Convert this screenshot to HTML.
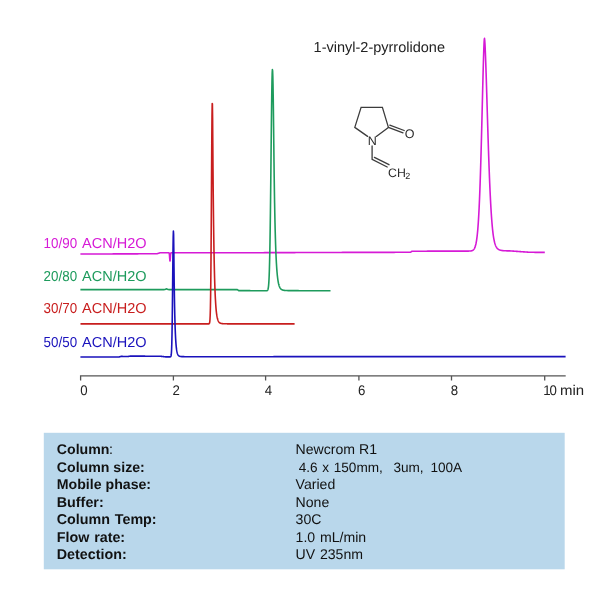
<!DOCTYPE html>
<html><head><meta charset="utf-8"><title>1-vinyl-2-pyrrolidone</title>
<style>
html,body{margin:0;padding:0;background:#fff;}
body{width:600px;height:597px;position:relative;overflow:hidden;font-family:"Liberation Sans",sans-serif;}
svg{will-change:transform;}
svg text{text-rendering:geometricPrecision;}
</style></head><body>
<svg width="600" height="597" viewBox="0 0 600 597" style="position:absolute;left:0;top:0">
<rect x="43.8" y="432.8" width="520.9" height="136.5" fill="#b9d7eb"/>
<g stroke="#555" stroke-width="1.3" fill="none">
<path d="M80.60,380.4 L80.60,375.9 L565.7,375.9"/>
<path d="M173.40,375.9 L173.40,380.5"/>
<path d="M265.60,375.9 L265.60,380.5"/>
<path d="M358.90,375.9 L358.90,380.5"/>
<path d="M451.50,375.9 L451.50,380.5"/>
<path d="M544.70,375.9 L544.70,380.5"/>
</g>
<path d="M80.40,254.05 L80.60,254.05 L80.80,254.05 L81.00,254.05 L81.20,254.05 L81.40,254.04 L81.60,254.04 L81.80,254.04 L82.00,254.04 L83.50,254.04 L85.00,254.03 L86.50,254.02 L88.00,254.02 L89.50,254.01 L91.00,254.01 L92.50,254.00 L94.00,254.00 L95.50,253.99 L97.00,253.98 L98.50,253.98 L100.00,253.97 L101.50,253.97 L103.00,253.96 L104.50,253.95 L106.00,253.95 L107.50,253.94 L109.00,253.94 L110.50,253.93 L112.00,253.93 L113.50,253.92 L115.00,253.91 L116.50,253.91 L118.00,253.90 L119.50,253.90 L121.00,253.89 L122.50,253.88 L124.00,253.88 L125.50,253.87 L127.00,253.87 L128.50,253.86 L130.00,253.86 L131.50,253.85 L133.00,253.84 L134.50,253.84 L136.00,253.83 L137.50,253.83 L139.00,253.82 L140.50,253.81 L142.00,253.81 L143.50,253.80 L145.00,253.80 L146.50,253.79 L148.00,253.79 L149.50,253.78 L151.00,253.77 L152.50,253.77 L154.00,253.76 L155.50,253.76 L155.70,253.76 L155.90,253.75 L156.10,253.75 L156.30,253.75 L156.50,253.75 L156.70,253.75 L156.90,253.75 L157.10,253.72 L157.30,253.66 L157.50,253.59 L157.70,253.53 L157.90,253.47 L158.10,253.40 L158.30,253.34 L158.50,253.28 L158.70,253.21 L158.90,253.15 L159.10,253.09 L159.30,253.02 L159.50,252.96 L159.70,252.90 L159.90,252.83 L160.10,252.80 L160.30,252.80 L160.50,252.80 L160.70,252.80 L160.90,252.80 L161.10,252.80 L161.30,252.80 L161.50,252.80 L161.70,252.80 L161.90,252.80 L162.10,252.80 L163.60,252.80 L165.10,252.80 L165.30,252.80 L165.50,252.80 L165.70,252.80 L165.90,252.80 L166.10,252.80 L166.30,252.80 L166.50,252.80 L166.70,252.80 L166.90,252.80 L167.10,252.80 L167.30,252.80 L167.50,252.80 L167.70,252.80 L167.90,252.80 L168.10,252.79 L168.30,252.79 L168.50,252.79 L168.70,252.80 L168.90,252.82 L169.10,252.96 L169.30,253.58 L169.50,255.33 L169.70,258.34 L169.90,260.98 L170.10,260.98 L170.30,258.34 L170.50,255.33 L170.70,253.58 L170.90,252.96 L171.10,252.82 L171.30,252.80 L171.50,252.79 L171.70,252.79 L171.90,252.79 L172.10,252.79 L172.30,252.79 L172.50,252.79 L172.70,252.79 L172.90,252.79 L173.10,252.79 L173.30,252.79 L173.50,252.79 L173.70,252.79 L173.90,252.79 L174.10,252.79 L174.30,252.79 L174.50,252.79 L174.70,252.79 L174.90,252.79 L175.10,252.79 L175.30,252.79 L175.50,252.79 L175.70,252.79 L175.90,252.79 L176.10,252.79 L177.60,252.79 L179.10,252.79 L180.60,252.79 L182.10,252.79 L183.60,252.79 L185.10,252.78 L186.60,252.78 L188.10,252.78 L189.60,252.78 L191.10,252.78 L192.60,252.78 L194.10,252.78 L195.60,252.78 L197.10,252.78 L198.60,252.78 L200.10,252.77 L201.60,252.77 L203.10,252.77 L204.60,252.77 L206.10,252.77 L207.60,252.77 L209.10,252.77 L210.60,252.77 L212.10,252.77 L213.60,252.77 L215.10,252.77 L216.60,252.76 L218.10,252.76 L219.60,252.76 L221.10,252.76 L222.60,252.76 L224.10,252.76 L225.60,252.76 L227.10,252.76 L228.60,252.76 L230.10,252.76 L231.60,252.76 L233.10,252.75 L234.60,252.75 L236.10,252.75 L237.60,252.75 L239.10,252.75 L239.30,252.75 L239.50,252.75 L239.70,252.75 L239.90,252.75 L240.10,252.75 L240.30,252.75 L240.50,252.75 L240.70,252.75 L240.90,252.75 L241.10,252.75 L241.30,252.75 L241.50,252.75 L241.70,252.74 L241.90,252.74 L242.10,252.74 L243.60,252.74 L245.10,252.73 L246.60,252.73 L248.10,252.72 L249.60,252.72 L251.10,252.71 L252.60,252.71 L254.10,252.71 L255.60,252.70 L257.10,252.70 L258.60,252.69 L260.10,252.69 L261.60,252.68 L263.10,252.68 L264.60,252.67 L266.10,252.67 L267.60,252.66 L269.10,252.66 L270.60,252.65 L272.10,252.65 L273.60,252.64 L275.10,252.64 L276.60,252.63 L278.10,252.63 L279.60,252.62 L281.10,252.62 L282.60,252.61 L284.10,252.61 L285.60,252.60 L287.10,252.60 L288.60,252.60 L290.10,252.59 L291.60,252.59 L293.10,252.58 L294.60,252.58 L296.10,252.57 L297.60,252.57 L299.10,252.56 L300.60,252.56 L302.10,252.55 L303.60,252.55 L305.10,252.54 L306.60,252.54 L308.10,252.53 L309.60,252.53 L311.10,252.52 L312.60,252.52 L314.10,252.51 L315.60,252.51 L317.10,252.50 L318.60,252.50 L320.10,252.50 L321.60,252.49 L323.10,252.49 L324.60,252.48 L326.10,252.48 L327.60,252.47 L329.10,252.47 L330.60,252.46 L332.10,252.46 L333.60,252.45 L335.10,252.45 L336.60,252.44 L338.10,252.44 L339.60,252.43 L341.10,252.43 L342.60,252.42 L344.10,252.42 L345.60,252.41 L347.10,252.41 L348.60,252.40 L348.80,252.40 L349.00,252.40 L349.20,252.40 L349.40,252.40 L349.60,252.40 L349.80,252.40 L350.00,252.40 L350.20,252.40 L350.40,252.40 L350.60,252.40 L350.80,252.40 L351.00,252.40 L351.20,252.40 L351.40,252.40 L351.60,252.40 L351.80,252.40 L352.00,252.40 L352.20,252.40 L353.70,252.39 L355.20,252.39 L356.70,252.39 L358.20,252.39 L359.70,252.38 L361.20,252.38 L362.70,252.38 L364.20,252.38 L365.70,252.37 L367.20,252.37 L368.70,252.37 L370.20,252.37 L371.70,252.36 L373.20,252.36 L374.70,252.36 L376.20,252.36 L377.70,252.35 L379.20,252.35 L380.70,252.35 L382.20,252.35 L383.70,252.34 L385.20,252.34 L386.70,252.34 L388.20,252.34 L389.70,252.33 L391.20,252.33 L392.70,252.33 L394.20,252.33 L395.70,252.32 L397.20,252.32 L398.70,252.32 L400.20,252.32 L401.70,252.31 L403.20,252.31 L404.70,252.31 L406.20,252.31 L407.70,252.30 L409.20,252.30 L409.40,252.30 L409.60,252.30 L409.80,252.30 L410.00,252.30 L410.20,252.30 L410.40,252.30 L410.60,252.23 L410.80,252.08 L411.00,251.93 L411.20,251.79 L411.40,251.64 L411.60,251.49 L411.80,251.35 L412.00,251.20 L412.20,251.20 L412.40,251.20 L412.60,251.20 L412.80,251.20 L413.00,251.20 L413.20,251.20 L413.40,251.20 L413.60,251.20 L413.80,251.20 L414.00,251.20 L414.20,251.20 L415.70,251.19 L417.20,251.19 L418.70,251.19 L420.20,251.19 L421.70,251.18 L423.20,251.18 L424.70,251.18 L426.20,251.18 L427.70,251.17 L429.20,251.17 L430.70,251.17 L432.20,251.17 L433.70,251.16 L435.20,251.16 L436.70,251.16 L438.20,251.15 L439.70,251.15 L439.90,251.15 L440.10,251.15 L440.30,251.15 L440.50,251.15 L440.70,251.15 L440.90,251.15 L441.10,251.15 L441.30,251.15 L441.50,251.15 L441.70,251.15 L441.90,251.15 L442.10,251.15 L442.30,251.15 L442.50,251.15 L442.70,251.15 L442.90,251.15 L443.10,251.15 L443.30,251.15 L443.50,251.15 L443.70,251.15 L443.90,251.14 L444.10,251.14 L444.30,251.14 L444.50,251.14 L444.70,251.14 L444.90,251.14 L445.10,251.14 L445.30,251.14 L445.50,251.14 L445.70,251.14 L445.90,251.14 L446.10,251.14 L446.30,251.14 L446.50,251.14 L446.70,251.14 L446.90,251.14 L447.10,251.14 L447.30,251.14 L447.50,251.14 L447.70,251.14 L447.90,251.14 L448.10,251.14 L448.30,251.14 L448.50,251.14 L448.70,251.14 L448.90,251.14 L449.10,251.14 L449.30,251.14 L449.50,251.14 L449.70,251.13 L449.90,251.13 L450.10,251.13 L450.30,251.13 L450.50,251.13 L450.70,251.13 L450.90,251.13 L451.10,251.13 L451.30,251.13 L451.50,251.13 L451.70,251.13 L451.90,251.13 L452.10,251.13 L452.30,251.13 L452.50,251.13 L452.70,251.13 L452.90,251.13 L453.10,251.13 L453.30,251.13 L453.50,251.13 L453.70,251.13 L453.90,251.13 L454.10,251.13 L454.30,251.13 L454.50,251.13 L454.70,251.13 L454.90,251.13 L455.10,251.13 L455.30,251.13 L455.50,251.12 L455.70,251.12 L455.90,251.12 L456.10,251.12 L456.30,251.12 L456.50,251.12 L456.70,251.12 L456.90,251.12 L457.10,251.12 L457.30,251.12 L457.50,251.12 L457.70,251.12 L457.90,251.12 L458.10,251.12 L458.30,251.12 L458.50,251.12 L458.70,251.12 L458.90,251.12 L459.10,251.12 L459.30,251.12 L459.50,251.12 L459.70,251.12 L459.90,251.12 L460.10,251.12 L460.30,251.12 L460.50,251.12 L460.70,251.12 L460.90,251.12 L461.10,251.12 L461.30,251.11 L461.50,251.11 L461.70,251.11 L461.90,251.11 L462.10,251.11 L462.30,251.11 L462.50,251.11 L462.70,251.11 L462.90,251.11 L463.10,251.11 L463.30,251.11 L463.50,251.11 L463.70,251.11 L463.90,251.11 L464.10,251.11 L464.30,251.11 L464.50,251.11 L464.70,251.11 L464.90,251.11 L465.10,251.11 L465.30,251.11 L465.50,251.11 L465.70,251.11 L465.90,251.11 L466.10,251.10 L466.30,251.10 L466.50,251.10 L466.70,251.10 L466.90,251.10 L467.10,251.10 L467.30,251.10 L467.50,251.10 L467.70,251.09 L467.90,251.09 L468.10,251.09 L468.30,251.09 L468.50,251.08 L468.70,251.08 L468.90,251.07 L469.10,251.06 L469.30,251.06 L469.50,251.05 L469.70,251.04 L469.90,251.03 L470.10,251.01 L470.30,250.99 L470.50,250.97 L470.70,250.95 L470.90,250.92 L471.10,250.89 L471.30,250.86 L471.50,250.81 L471.70,250.76 L471.90,250.70 L472.10,250.63 L472.30,250.55 L472.50,250.46 L472.70,250.35 L472.90,250.23 L473.10,250.09 L473.30,249.92 L473.50,249.73 L473.70,249.52 L473.90,249.27 L474.10,248.99 L474.30,248.67 L474.50,248.30 L474.70,247.89 L474.90,247.42 L475.10,246.88 L475.30,246.28 L475.50,245.60 L475.70,244.84 L475.90,243.99 L476.10,243.03 L476.30,241.96 L476.50,240.77 L476.70,239.44 L476.90,237.96 L477.10,236.33 L477.30,234.53 L477.50,232.54 L477.70,230.35 L477.90,227.96 L478.10,225.33 L478.30,222.47 L478.50,219.35 L478.70,215.96 L478.90,212.30 L479.10,208.34 L479.30,204.08 L479.50,199.52 L479.70,194.63 L479.90,189.42 L480.10,183.88 L480.30,178.02 L480.50,171.83 L480.70,165.33 L480.90,158.53 L481.10,151.44 L481.30,144.08 L481.50,136.49 L481.70,128.70 L481.90,120.74 L482.10,112.67 L482.30,104.53 L482.50,96.40 L482.70,88.34 L482.90,80.44 L483.10,72.79 L483.30,65.49 L483.50,58.66 L483.70,52.44 L483.90,46.99 L484.10,42.51 L484.30,39.32 L484.50,38.34 L484.70,40.05 L484.90,42.91 L485.10,46.60 L485.30,50.97 L485.50,55.89 L485.70,61.26 L485.90,67.00 L486.10,73.05 L486.30,79.33 L486.50,85.78 L486.70,92.37 L486.90,99.02 L487.10,105.72 L487.30,112.41 L487.50,119.05 L487.70,125.63 L487.90,132.11 L488.10,138.47 L488.30,144.68 L488.50,150.73 L488.70,156.60 L488.90,162.28 L489.10,167.76 L489.30,173.04 L489.50,178.10 L489.70,182.94 L489.90,187.56 L490.10,191.96 L490.30,196.13 L490.50,200.09 L490.70,203.83 L490.90,207.36 L491.10,210.69 L491.30,213.81 L491.50,216.74 L491.70,219.49 L491.90,222.05 L492.10,224.44 L492.30,226.67 L492.50,228.74 L492.70,230.66 L492.90,232.42 L493.10,234.03 L493.30,235.50 L493.50,236.84 L493.70,238.07 L493.90,239.18 L494.10,240.20 L494.30,241.13 L494.50,241.98 L494.70,242.76 L494.90,243.46 L495.10,244.11 L495.30,244.70 L495.50,245.23 L495.70,245.72 L495.90,246.17 L496.10,246.58 L496.30,246.95 L496.50,247.29 L496.70,247.59 L496.90,247.88 L497.10,248.13 L497.30,248.37 L497.50,248.58 L497.70,248.77 L497.90,248.95 L498.10,249.11 L498.30,249.25 L498.50,249.39 L498.70,249.51 L498.90,249.62 L499.10,249.72 L499.30,249.81 L499.50,249.89 L499.70,249.96 L499.90,250.03 L500.10,250.10 L500.30,250.16 L500.50,250.22 L500.70,250.27 L500.90,250.32 L501.10,250.36 L501.30,250.40 L501.50,250.44 L501.70,250.48 L501.90,250.51 L502.10,250.54 L502.30,250.56 L502.50,250.59 L502.70,250.61 L502.90,250.63 L503.10,250.65 L503.30,250.67 L503.50,250.68 L503.70,250.70 L503.90,250.71 L504.10,250.73 L504.30,250.74 L504.50,250.75 L504.70,250.76 L504.90,250.77 L505.10,250.78 L505.30,250.79 L505.50,250.79 L505.70,250.80 L505.90,250.81 L506.10,250.81 L506.30,250.82 L506.50,250.83 L506.70,250.83 L506.90,250.84 L507.10,250.84 L507.30,250.85 L507.50,250.85 L507.70,250.85 L507.90,250.86 L508.10,250.86 L508.30,250.87 L508.50,250.87 L508.70,250.87 L508.90,250.88 L509.10,250.88 L509.30,250.88 L509.50,250.89 L509.70,250.89 L509.90,250.89 L510.10,250.90 L510.30,250.91 L510.50,250.93 L510.70,250.94 L510.90,250.96 L511.10,250.97 L511.30,250.99 L511.50,251.00 L511.70,251.02 L511.90,251.03 L512.10,251.04 L512.30,251.06 L512.50,251.07 L512.70,251.09 L512.90,251.10 L513.10,251.12 L513.30,251.13 L513.50,251.14 L513.70,251.16 L513.90,251.17 L514.10,251.19 L514.30,251.20 L514.50,251.21 L514.70,251.23 L514.90,251.24 L515.10,251.26 L515.30,251.27 L515.50,251.28 L515.70,251.30 L515.90,251.31 L516.10,251.33 L516.30,251.34 L516.50,251.35 L516.70,251.37 L516.90,251.38 L517.10,251.40 L517.30,251.41 L517.50,251.42 L517.70,251.44 L517.90,251.45 L518.10,251.47 L518.30,251.48 L518.50,251.49 L518.70,251.51 L518.90,251.52 L519.10,251.54 L519.30,251.55 L519.50,251.56 L519.70,251.58 L519.90,251.59 L520.10,251.61 L520.30,251.62 L520.50,251.63 L520.70,251.65 L520.90,251.66 L521.10,251.68 L521.30,251.69 L521.50,251.70 L521.70,251.72 L521.90,251.73 L522.10,251.75 L522.30,251.76 L522.50,251.77 L522.70,251.79 L522.90,251.80 L523.10,251.82 L523.30,251.83 L523.50,251.84 L523.70,251.86 L523.90,251.87 L524.10,251.89 L524.30,251.90 L524.50,251.91 L524.70,251.93 L524.90,251.94 L525.10,251.96 L525.30,251.97 L525.50,251.98 L525.70,252.00 L525.90,252.01 L526.10,252.03 L526.30,252.04 L526.50,252.05 L526.70,252.07 L526.90,252.08 L527.10,252.10 L527.30,252.11 L527.50,252.12 L527.70,252.14 L527.90,252.15 L528.10,252.17 L528.30,252.18 L528.50,252.19 L528.70,252.21 L528.90,252.22 L529.10,252.24 L529.30,252.25 L529.50,252.26 L529.70,252.28 L529.90,252.29 L530.10,252.30 L530.30,252.30 L530.50,252.30 L530.70,252.30 L530.90,252.31 L531.10,252.31 L531.30,252.31 L531.50,252.31 L531.70,252.31 L531.90,252.31 L532.10,252.31 L533.60,252.32 L535.10,252.33 L536.60,252.34 L538.10,252.35 L539.60,252.36 L541.10,252.37 L542.60,252.38 L544.10,252.39 L544.30,252.40 L544.50,252.40 L544.70,252.40 L544.80,252.40" fill="none" stroke="#d61ad6" stroke-width="1.6" stroke-linejoin="round" stroke-linecap="butt"/>
<path d="M80.40,289.60 L80.60,289.60 L80.80,289.60 L81.00,289.60 L81.20,289.60 L81.40,289.60 L81.60,289.60 L81.80,289.60 L82.00,289.60 L83.50,289.60 L85.00,289.60 L86.50,289.60 L88.00,289.60 L89.50,289.60 L91.00,289.60 L92.50,289.60 L94.00,289.60 L95.50,289.60 L97.00,289.60 L98.50,289.60 L100.00,289.60 L101.50,289.60 L103.00,289.60 L104.50,289.60 L106.00,289.60 L107.50,289.60 L109.00,289.60 L110.50,289.60 L112.00,289.60 L113.50,289.60 L115.00,289.60 L116.50,289.60 L118.00,289.60 L119.50,289.60 L121.00,289.60 L122.50,289.60 L124.00,289.60 L125.50,289.60 L127.00,289.60 L128.50,289.60 L130.00,289.60 L131.50,289.60 L133.00,289.60 L134.50,289.60 L136.00,289.60 L137.50,289.60 L139.00,289.60 L140.50,289.60 L142.00,289.60 L143.50,289.60 L145.00,289.60 L146.50,289.60 L148.00,289.60 L149.50,289.60 L151.00,289.60 L152.50,289.60 L154.00,289.60 L155.50,289.60 L157.00,289.60 L158.50,289.60 L160.00,289.60 L161.50,289.60 L161.70,289.60 L161.90,289.60 L162.10,289.60 L162.30,289.60 L162.50,289.60 L162.70,289.60 L162.90,289.60 L163.10,289.60 L163.30,289.60 L163.50,289.60 L163.70,289.60 L163.90,289.60 L164.10,289.59 L164.30,289.58 L164.50,289.57 L164.70,289.54 L164.90,289.51 L165.10,289.45 L165.30,289.37 L165.50,289.28 L165.70,289.18 L165.90,289.07 L166.10,288.98 L166.30,288.92 L166.50,288.90 L166.70,288.92 L166.90,288.98 L167.10,289.07 L167.30,289.18 L167.50,289.28 L167.70,289.37 L167.90,289.45 L168.10,289.51 L168.30,289.54 L168.50,289.57 L168.70,289.58 L168.90,289.59 L169.10,289.60 L169.30,289.60 L169.50,289.60 L169.70,289.60 L169.90,289.60 L170.10,289.60 L170.30,289.60 L170.50,289.60 L170.70,289.60 L170.90,289.60 L171.10,289.60 L171.30,289.60 L171.50,289.60 L171.70,289.60 L171.90,289.60 L172.10,289.60 L172.30,289.60 L172.50,289.60 L172.70,289.60 L174.20,289.60 L175.70,289.60 L177.20,289.60 L178.70,289.60 L180.20,289.60 L181.70,289.60 L183.20,289.60 L184.70,289.60 L186.20,289.60 L187.70,289.60 L189.20,289.60 L190.70,289.60 L192.20,289.60 L193.70,289.60 L195.20,289.60 L196.70,289.60 L198.20,289.60 L199.70,289.60 L201.20,289.60 L202.70,289.60 L204.20,289.60 L205.70,289.60 L207.20,289.60 L208.70,289.60 L210.20,289.60 L211.70,289.60 L213.20,289.60 L214.70,289.60 L216.20,289.60 L217.70,289.60 L219.20,289.60 L220.70,289.60 L222.20,289.60 L223.70,289.60 L225.20,289.60 L226.70,289.60 L228.20,289.60 L228.40,289.60 L228.60,289.60 L228.80,289.60 L229.00,289.60 L229.20,289.60 L229.40,289.60 L229.60,289.60 L229.80,289.60 L230.00,289.60 L230.20,289.60 L230.40,289.60 L230.60,289.60 L230.80,289.60 L231.00,289.60 L231.20,289.60 L231.40,289.60 L231.60,289.60 L231.80,289.60 L232.00,289.60 L232.20,289.60 L232.40,289.60 L232.60,289.60 L232.80,289.60 L233.00,289.60 L233.20,289.60 L233.40,289.60 L233.60,289.60 L233.80,289.60 L234.00,289.60 L234.20,289.60 L234.40,289.60 L234.60,289.60 L234.80,289.60 L235.00,289.60 L235.20,289.60 L235.40,289.60 L235.60,289.60 L235.80,289.60 L236.00,289.60 L236.20,289.60 L236.40,289.60 L236.60,289.60 L236.80,289.60 L237.00,289.60 L237.20,289.60 L237.40,289.60 L237.60,289.70 L237.80,289.90 L238.00,290.10 L238.20,290.30 L238.40,290.50 L238.60,290.60 L238.80,290.60 L239.00,290.60 L239.20,290.60 L239.40,290.61 L239.60,290.61 L239.80,290.61 L240.00,290.61 L240.20,290.61 L240.40,290.61 L240.60,290.61 L240.80,290.61 L241.00,290.62 L241.20,290.62 L241.40,290.62 L241.60,290.62 L241.80,290.62 L242.00,290.62 L242.20,290.62 L242.40,290.62 L242.60,290.63 L242.80,290.63 L243.00,290.63 L243.20,290.63 L243.40,290.63 L243.60,290.63 L243.80,290.63 L244.00,290.63 L244.20,290.64 L244.40,290.64 L244.60,290.64 L244.80,290.64 L245.00,290.64 L245.20,290.64 L245.40,290.64 L245.60,290.65 L245.80,290.65 L246.00,290.65 L246.20,290.65 L246.40,290.65 L246.60,290.65 L246.80,290.65 L247.00,290.65 L247.20,290.66 L247.40,290.66 L247.60,290.66 L247.80,290.66 L248.00,290.66 L248.20,290.66 L248.40,290.66 L248.60,290.66 L248.80,290.67 L249.00,290.67 L249.20,290.67 L249.40,290.67 L249.60,290.67 L249.80,290.67 L250.00,290.67 L250.20,290.67 L250.40,290.68 L250.60,290.68 L250.80,290.68 L251.00,290.68 L251.20,290.68 L251.40,290.68 L251.60,290.68 L251.80,290.68 L252.00,290.69 L252.20,290.69 L252.40,290.69 L252.60,290.69 L252.80,290.69 L253.00,290.69 L253.20,290.69 L253.40,290.69 L253.60,290.70 L253.80,290.70 L254.00,290.70 L254.20,290.70 L254.40,290.70 L254.60,290.70 L254.80,290.70 L255.00,290.70 L255.20,290.71 L255.40,290.71 L255.60,290.71 L255.80,290.71 L256.00,290.71 L256.20,290.71 L256.40,290.71 L256.60,290.71 L256.80,290.72 L257.00,290.72 L257.20,290.72 L257.40,290.72 L257.60,290.72 L257.80,290.72 L258.00,290.72 L258.20,290.73 L258.40,290.73 L258.60,290.73 L258.80,290.73 L259.00,290.73 L259.20,290.73 L259.40,290.73 L259.60,290.73 L259.80,290.74 L260.00,290.74 L260.20,290.74 L260.40,290.74 L260.60,290.74 L260.80,290.74 L261.00,290.74 L261.20,290.74 L261.40,290.75 L261.60,290.75 L261.80,290.75 L262.00,290.75 L262.20,290.75 L262.40,290.75 L262.60,290.75 L262.80,290.75 L263.00,290.76 L263.20,290.76 L263.40,290.76 L263.60,290.76 L263.80,290.76 L264.00,290.76 L264.20,290.76 L264.40,290.76 L264.60,290.77 L264.80,290.77 L265.00,290.77 L265.20,290.77 L265.40,290.77 L265.60,290.77 L265.80,290.77 L266.00,290.77 L266.20,290.76 L266.40,290.75 L266.60,290.74 L266.80,290.70 L267.00,290.65 L267.20,290.56 L267.40,290.41 L267.60,290.17 L267.80,289.79 L268.00,289.22 L268.20,288.37 L268.40,287.12 L268.60,285.35 L268.80,282.88 L269.00,279.50 L269.20,275.01 L269.40,269.17 L269.60,261.75 L269.80,252.56 L270.00,241.45 L270.20,228.38 L270.40,213.40 L270.60,196.73 L270.80,178.74 L271.00,159.95 L271.20,141.04 L271.40,122.78 L271.60,106.04 L271.80,91.65 L272.00,80.38 L272.20,72.89 L272.40,69.59 L272.60,70.57 L272.80,75.49 L273.00,84.07 L273.20,95.86 L273.40,110.28 L273.60,126.62 L273.80,144.15 L274.00,161.67 L274.20,177.22 L274.40,190.89 L274.60,202.91 L274.80,213.47 L275.00,222.75 L275.20,230.92 L275.40,238.10 L275.60,244.41 L275.80,249.97 L276.00,254.85 L276.20,259.14 L276.40,262.92 L276.60,266.24 L276.80,269.16 L277.00,271.73 L277.20,273.99 L277.40,275.98 L277.60,277.73 L277.80,279.26 L278.00,280.61 L278.20,281.80 L278.40,282.85 L278.60,283.77 L278.80,284.58 L279.00,285.29 L279.20,285.92 L279.40,286.47 L279.60,286.95 L279.80,287.38 L280.00,287.76 L280.20,288.09 L280.40,288.38 L280.60,288.64 L280.80,288.86 L281.00,289.06 L281.20,289.24 L281.40,289.40 L281.60,289.53 L281.80,289.65 L282.00,289.76 L282.20,289.85 L282.40,289.94 L282.60,290.01 L282.80,290.08 L283.00,290.13 L283.20,290.19 L283.40,290.23 L283.60,290.27 L283.80,290.31 L284.00,290.34 L284.20,290.37 L284.40,290.39 L284.60,290.42 L284.80,290.44 L285.00,290.46 L285.20,290.47 L285.40,290.49 L285.60,290.50 L285.80,290.51 L286.00,290.52 L286.20,290.53 L286.40,290.54 L286.60,290.55 L286.80,290.56 L287.00,290.56 L287.20,290.57 L287.40,290.57 L287.60,290.58 L287.80,290.59 L288.00,290.59 L288.20,290.59 L288.40,290.60 L288.60,290.60 L288.80,290.60 L289.00,290.61 L289.20,290.61 L289.40,290.61 L289.60,290.62 L289.80,290.62 L290.00,290.62 L290.20,290.62 L290.40,290.63 L290.60,290.63 L290.80,290.63 L291.00,290.63 L291.20,290.63 L291.40,290.64 L291.60,290.64 L291.80,290.64 L292.00,290.64 L292.20,290.64 L292.40,290.64 L292.60,290.65 L292.80,290.65 L293.00,290.65 L293.20,290.65 L293.40,290.65 L293.60,290.65 L293.80,290.65 L294.00,290.65 L294.20,290.66 L294.40,290.66 L294.60,290.66 L294.80,290.66 L295.00,290.66 L295.20,290.66 L295.40,290.66 L295.60,290.66 L295.80,290.66 L296.00,290.66 L296.20,290.67 L296.40,290.67 L296.60,290.67 L296.80,290.67 L297.00,290.67 L297.20,290.67 L297.40,290.67 L297.60,290.67 L297.80,290.67 L298.00,290.67 L298.20,290.67 L298.40,290.67 L298.60,290.67 L298.80,290.68 L299.00,290.68 L299.20,290.68 L299.40,290.68 L299.60,290.68 L299.80,290.68 L300.00,290.68 L300.20,290.68 L300.40,290.68 L300.60,290.68 L300.80,290.68 L301.00,290.68 L301.20,290.68 L301.40,290.68 L301.60,290.68 L301.80,290.68 L302.00,290.68 L302.20,290.68 L302.40,290.68 L302.60,290.68 L302.80,290.69 L303.00,290.69 L303.20,290.69 L303.40,290.69 L303.60,290.69 L303.80,290.69 L304.00,290.69 L304.20,290.69 L304.40,290.69 L304.60,290.69 L304.80,290.69 L305.00,290.69 L305.20,290.69 L305.40,290.69 L305.60,290.69 L305.80,290.69 L306.00,290.69 L306.20,290.69 L306.40,290.69 L306.60,290.69 L306.80,290.69 L307.00,290.69 L307.20,290.69 L307.40,290.69 L307.60,290.69 L307.80,290.69 L308.00,290.69 L308.20,290.69 L308.40,290.69 L308.60,290.69 L308.80,290.69 L309.00,290.69 L309.20,290.69 L309.40,290.69 L309.60,290.69 L309.80,290.69 L310.00,290.69 L310.20,290.69 L310.40,290.69 L310.60,290.69 L310.80,290.69 L311.00,290.69 L311.20,290.69 L311.40,290.69 L311.60,290.70 L311.80,290.70 L312.00,290.70 L312.20,290.70 L312.40,290.70 L312.60,290.70 L312.80,290.70 L313.00,290.70 L313.20,290.70 L313.40,290.70 L313.60,290.70 L313.80,290.70 L314.00,290.70 L314.20,290.70 L314.40,290.70 L314.60,290.70 L314.80,290.70 L315.00,290.70 L315.20,290.70 L315.40,290.70 L315.60,290.70 L315.80,290.70 L316.00,290.70 L316.20,290.70 L316.40,290.70 L316.60,290.70 L316.80,290.70 L317.00,290.70 L317.20,290.70 L317.40,290.70 L317.60,290.70 L319.10,290.70 L320.60,290.70 L322.10,290.70 L323.60,290.70 L325.10,290.70 L326.60,290.70 L328.10,290.70 L329.60,290.70 L329.80,290.70 L330.00,290.70 L330.20,290.70 L330.40,290.70 L330.50,290.70" fill="none" stroke="#1e9b5d" stroke-width="1.6" stroke-linejoin="round" stroke-linecap="butt"/>
<path d="M80.50,323.85 L80.70,323.85 L80.90,323.85 L81.10,323.85 L81.30,323.85 L81.50,323.85 L81.70,323.85 L81.90,323.85 L82.10,323.85 L83.60,323.85 L85.10,323.85 L86.60,323.85 L88.10,323.85 L89.60,323.85 L91.10,323.85 L92.60,323.85 L94.10,323.85 L95.60,323.85 L97.10,323.85 L98.60,323.85 L100.10,323.85 L101.60,323.86 L103.10,323.86 L104.60,323.86 L106.10,323.86 L107.60,323.86 L109.10,323.86 L110.60,323.86 L112.10,323.86 L113.60,323.86 L115.10,323.86 L116.60,323.86 L118.10,323.86 L119.60,323.86 L121.10,323.86 L122.60,323.86 L124.10,323.86 L125.60,323.86 L127.10,323.86 L128.60,323.86 L130.10,323.86 L131.60,323.86 L133.10,323.86 L134.60,323.86 L136.10,323.86 L137.60,323.86 L139.10,323.86 L140.60,323.86 L142.10,323.86 L143.60,323.86 L145.10,323.87 L146.60,323.87 L148.10,323.87 L149.60,323.87 L151.10,323.87 L152.60,323.87 L154.10,323.87 L155.60,323.87 L157.10,323.87 L158.60,323.87 L160.10,323.87 L161.60,323.87 L163.10,323.87 L164.60,323.87 L166.10,323.87 L167.60,323.87 L167.80,323.87 L168.00,323.87 L168.20,323.87 L168.40,323.87 L168.60,323.87 L168.80,323.87 L169.00,323.87 L169.20,323.87 L169.40,323.87 L169.60,323.87 L169.80,323.87 L170.00,323.87 L170.20,323.87 L170.40,323.87 L170.60,323.87 L170.80,323.87 L171.00,323.87 L171.20,323.87 L171.40,323.87 L171.60,323.87 L171.80,323.87 L172.00,323.87 L172.20,323.87 L172.40,323.87 L172.60,323.87 L172.80,323.87 L173.00,323.87 L173.20,323.87 L173.40,323.87 L173.60,323.87 L173.80,323.87 L174.00,323.87 L174.20,323.87 L174.40,323.87 L174.60,323.87 L174.80,323.87 L175.00,323.87 L175.20,323.87 L175.40,323.87 L175.60,323.87 L175.80,323.87 L176.00,323.87 L176.20,323.87 L176.40,323.87 L176.60,323.87 L176.80,323.87 L177.00,323.87 L177.20,323.87 L177.40,323.87 L177.60,323.87 L177.80,323.87 L178.00,323.87 L178.20,323.87 L178.40,323.87 L178.60,323.87 L178.80,323.87 L179.00,323.87 L179.20,323.87 L179.40,323.87 L179.60,323.87 L179.80,323.87 L180.00,323.87 L180.20,323.87 L180.40,323.87 L180.60,323.87 L180.80,323.87 L181.00,323.87 L181.20,323.87 L181.40,323.87 L181.60,323.87 L181.80,323.87 L182.00,323.87 L182.20,323.87 L182.40,323.87 L182.60,323.87 L182.80,323.87 L183.00,323.87 L183.20,323.87 L183.40,323.87 L183.60,323.87 L183.80,323.87 L184.00,323.87 L184.20,323.87 L184.40,323.87 L184.60,323.87 L184.80,323.87 L185.00,323.87 L185.20,323.87 L185.40,323.87 L185.60,323.87 L185.80,323.87 L186.00,323.87 L186.20,323.87 L186.40,323.87 L186.60,323.87 L186.80,323.87 L187.00,323.87 L187.20,323.87 L187.40,323.87 L187.60,323.88 L187.80,323.88 L188.00,323.88 L188.20,323.88 L188.40,323.88 L188.60,323.88 L188.80,323.88 L189.00,323.88 L189.20,323.88 L189.40,323.88 L189.60,323.88 L189.80,323.88 L190.00,323.88 L190.20,323.88 L190.40,323.88 L190.60,323.88 L190.80,323.88 L191.00,323.88 L191.20,323.88 L191.40,323.88 L191.60,323.88 L191.80,323.88 L192.00,323.88 L192.20,323.88 L192.40,323.88 L192.60,323.88 L192.80,323.88 L193.00,323.88 L193.20,323.88 L193.40,323.88 L193.60,323.88 L193.80,323.88 L194.00,323.88 L194.20,323.88 L194.40,323.88 L194.60,323.88 L194.80,323.88 L195.00,323.88 L195.20,323.88 L195.40,323.88 L195.60,323.88 L195.80,323.88 L196.00,323.88 L196.20,323.88 L196.40,323.88 L196.60,323.88 L196.80,323.88 L197.00,323.88 L197.20,323.88 L197.40,323.88 L197.60,323.88 L197.80,323.88 L198.00,323.88 L198.20,323.88 L198.40,323.88 L198.60,323.88 L198.80,323.88 L199.00,323.88 L199.20,323.88 L199.40,323.88 L199.60,323.88 L199.80,323.88 L200.00,323.88 L200.20,323.88 L200.40,323.88 L200.60,323.88 L200.80,323.88 L201.00,323.88 L201.20,323.88 L201.40,323.88 L201.60,323.88 L201.80,323.88 L202.00,323.88 L202.20,323.88 L202.40,323.88 L202.60,323.88 L202.80,323.88 L203.00,323.88 L203.20,323.88 L203.40,323.88 L203.60,323.88 L203.80,323.88 L204.00,323.88 L204.20,323.88 L204.40,323.88 L204.60,323.88 L204.80,323.88 L205.00,323.88 L205.20,323.88 L205.40,323.88 L205.60,323.88 L205.80,323.88 L206.00,323.88 L206.20,323.88 L206.40,323.88 L206.60,323.88 L206.80,323.88 L207.00,323.88 L207.20,323.88 L207.40,323.88 L207.60,323.88 L207.80,323.88 L208.00,323.88 L208.20,323.88 L208.40,323.88 L208.60,323.87 L208.80,323.85 L209.00,323.80 L209.20,323.68 L209.40,323.40 L209.60,322.80 L209.80,321.57 L210.00,319.22 L210.20,315.02 L210.40,307.99 L210.60,297.00 L210.80,280.97 L211.00,259.29 L211.20,232.16 L211.40,201.03 L211.60,168.68 L211.80,138.94 L212.00,116.01 L212.20,103.50 L212.40,103.70 L212.60,117.75 L212.80,143.03 L213.00,168.72 L213.20,190.73 L213.40,209.61 L213.60,225.80 L213.80,239.69 L214.00,251.62 L214.20,261.85 L214.40,270.64 L214.60,278.17 L214.80,284.64 L215.00,290.18 L215.20,294.94 L215.40,299.02 L215.60,302.52 L215.80,305.53 L216.00,308.10 L216.20,310.31 L216.40,312.21 L216.60,313.84 L216.80,315.23 L217.00,316.43 L217.20,317.46 L217.40,318.35 L217.60,319.10 L217.80,319.75 L218.00,320.31 L218.20,320.79 L218.40,321.21 L218.60,321.56 L218.80,321.87 L219.00,322.13 L219.20,322.36 L219.40,322.55 L219.60,322.72 L219.80,322.86 L220.00,322.99 L220.20,323.09 L220.40,323.19 L220.60,323.27 L220.80,323.34 L221.00,323.40 L221.20,323.45 L221.40,323.49 L221.60,323.53 L221.80,323.57 L222.00,323.60 L222.20,323.62 L222.40,323.65 L222.60,323.67 L222.80,323.69 L223.00,323.70 L223.20,323.71 L223.40,323.73 L223.60,323.74 L223.80,323.75 L224.00,323.76 L224.20,323.76 L224.40,323.77 L224.60,323.78 L224.80,323.78 L225.00,323.79 L225.20,323.79 L225.40,323.80 L225.60,323.80 L225.80,323.81 L226.00,323.81 L226.20,323.81 L226.40,323.82 L226.60,323.82 L226.80,323.82 L227.00,323.82 L227.20,323.83 L227.40,323.83 L227.60,323.83 L227.80,323.83 L228.00,323.83 L228.20,323.84 L228.40,323.84 L228.60,323.84 L228.80,323.84 L229.00,323.84 L229.20,323.84 L229.40,323.85 L229.60,323.85 L229.80,323.85 L230.00,323.85 L230.20,323.85 L230.40,323.85 L230.60,323.85 L230.80,323.85 L231.00,323.86 L231.20,323.86 L231.40,323.86 L231.60,323.86 L231.80,323.86 L232.00,323.86 L232.20,323.86 L232.40,323.86 L232.60,323.86 L232.80,323.86 L233.00,323.86 L233.20,323.87 L233.40,323.87 L233.60,323.87 L233.80,323.87 L234.00,323.87 L234.20,323.87 L234.40,323.87 L234.60,323.87 L234.80,323.87 L235.00,323.87 L235.20,323.87 L235.40,323.87 L235.60,323.87 L235.80,323.87 L236.00,323.87 L236.20,323.87 L236.40,323.87 L236.60,323.87 L236.80,323.88 L237.00,323.88 L237.20,323.88 L237.40,323.88 L237.60,323.88 L237.80,323.88 L238.00,323.88 L238.20,323.88 L238.40,323.88 L238.60,323.88 L238.80,323.88 L239.00,323.88 L239.20,323.88 L239.40,323.88 L239.60,323.88 L239.80,323.88 L240.00,323.88 L240.20,323.88 L240.40,323.88 L240.60,323.88 L240.80,323.88 L241.00,323.88 L241.20,323.88 L241.40,323.88 L241.60,323.88 L241.80,323.88 L242.00,323.88 L242.20,323.88 L242.40,323.88 L242.60,323.88 L242.80,323.88 L243.00,323.88 L243.20,323.88 L243.40,323.88 L243.60,323.88 L243.80,323.88 L244.00,323.88 L244.20,323.88 L244.40,323.89 L244.60,323.89 L244.80,323.89 L245.00,323.89 L245.20,323.89 L245.40,323.89 L245.60,323.89 L245.80,323.89 L246.00,323.89 L246.20,323.89 L246.40,323.89 L246.60,323.89 L246.80,323.89 L247.00,323.89 L247.20,323.89 L247.40,323.89 L247.60,323.89 L247.80,323.89 L248.00,323.89 L248.20,323.89 L248.40,323.89 L248.60,323.89 L248.80,323.89 L249.00,323.89 L249.20,323.89 L249.40,323.89 L249.60,323.89 L249.80,323.89 L250.00,323.89 L250.20,323.89 L250.40,323.89 L250.60,323.89 L250.80,323.89 L251.00,323.89 L251.20,323.89 L251.40,323.89 L251.60,323.89 L251.80,323.89 L252.00,323.89 L252.20,323.89 L252.40,323.89 L252.60,323.89 L252.80,323.89 L253.00,323.89 L253.20,323.89 L253.40,323.89 L253.60,323.89 L253.80,323.89 L254.00,323.89 L254.20,323.89 L254.40,323.89 L254.60,323.89 L254.80,323.89 L255.00,323.89 L255.20,323.89 L255.40,323.89 L255.60,323.89 L255.80,323.89 L256.00,323.89 L256.20,323.89 L256.40,323.89 L256.60,323.89 L256.80,323.89 L257.00,323.89 L257.20,323.89 L257.40,323.89 L258.90,323.89 L260.40,323.89 L261.90,323.89 L263.40,323.89 L264.90,323.89 L266.40,323.89 L267.90,323.89 L269.40,323.89 L270.90,323.89 L272.40,323.89 L273.90,323.90 L275.40,323.90 L276.90,323.90 L278.40,323.90 L279.90,323.90 L281.40,323.90 L282.90,323.90 L284.40,323.90 L285.90,323.90 L287.40,323.90 L288.90,323.90 L290.40,323.90 L291.90,323.90 L293.40,323.90 L293.60,323.90 L293.80,323.90 L294.00,323.90 L294.20,323.90 L294.40,323.90 L294.60,323.90 L294.60,323.90" fill="none" stroke="#c81e1e" stroke-width="1.6" stroke-linejoin="round" stroke-linecap="butt"/>
<path d="M80.40,357.00 L80.60,357.00 L80.80,357.00 L81.00,357.00 L81.20,357.00 L81.40,357.00 L81.60,357.00 L81.80,357.00 L82.00,357.00 L83.50,357.00 L85.00,357.00 L86.50,357.00 L88.00,357.00 L89.50,357.00 L91.00,357.00 L92.50,357.00 L94.00,357.00 L95.50,357.00 L97.00,357.00 L98.50,357.00 L100.00,357.00 L101.50,357.00 L103.00,357.00 L104.50,357.00 L106.00,357.00 L107.50,357.00 L109.00,357.00 L110.50,357.00 L112.00,357.00 L113.50,357.00 L115.00,357.00 L116.50,357.00 L118.00,357.00 L118.20,357.00 L118.40,357.00 L118.60,357.00 L118.80,357.00 L119.00,357.00 L119.20,356.94 L119.40,356.88 L119.60,356.82 L119.80,356.76 L120.00,356.70 L120.20,356.64 L120.40,356.58 L120.60,356.52 L120.80,356.46 L121.00,356.40 L121.20,356.40 L121.40,356.41 L121.60,356.41 L121.80,356.41 L122.00,356.41 L122.20,356.42 L122.40,356.42 L122.60,356.42 L122.80,356.43 L123.00,356.43 L124.50,356.45 L126.00,356.47 L126.20,356.47 L126.40,356.48 L126.60,356.48 L126.80,356.48 L127.00,356.49 L127.20,356.49 L127.40,356.49 L127.60,356.49 L127.80,356.50 L128.00,356.50 L128.20,356.46 L128.40,356.43 L128.60,356.39 L128.80,356.36 L129.00,356.32 L129.20,356.29 L129.40,356.25 L129.60,356.22 L129.80,356.19 L130.00,356.15 L130.20,356.15 L130.40,356.15 L130.60,356.15 L130.80,356.15 L131.00,356.15 L131.20,356.15 L131.40,356.15 L131.60,356.15 L131.80,356.15 L132.00,356.15 L132.20,356.15 L132.40,356.15 L132.60,356.15 L132.80,356.15 L133.00,356.15 L133.20,356.16 L133.40,356.16 L133.60,356.16 L133.80,356.16 L134.00,356.16 L134.20,356.16 L134.40,356.16 L134.60,356.16 L134.80,356.16 L135.00,356.16 L135.20,356.16 L135.40,356.16 L135.60,356.16 L135.80,356.16 L136.00,356.16 L136.20,356.16 L136.40,356.16 L136.60,356.16 L136.80,356.16 L137.00,356.16 L137.20,356.16 L137.40,356.16 L137.60,356.16 L137.80,356.16 L138.00,356.16 L138.20,356.16 L138.40,356.16 L138.60,356.16 L138.80,356.16 L139.00,356.16 L139.20,356.17 L139.40,356.17 L139.60,356.17 L139.80,356.17 L140.00,356.17 L140.20,356.17 L140.40,356.17 L140.60,356.17 L140.80,356.17 L141.00,356.17 L141.20,356.17 L141.40,356.17 L141.60,356.17 L141.80,356.17 L142.00,356.17 L142.20,356.17 L142.40,356.17 L142.60,356.17 L142.80,356.17 L143.00,356.17 L143.20,356.17 L143.40,356.17 L143.60,356.17 L143.80,356.17 L144.00,356.17 L144.20,356.17 L144.40,356.17 L144.60,356.17 L144.80,356.17 L145.00,356.17 L145.20,356.18 L145.40,356.18 L145.60,356.18 L145.80,356.18 L146.00,356.18 L146.20,356.18 L146.40,356.18 L146.60,356.18 L146.80,356.18 L147.00,356.18 L147.20,356.18 L147.40,356.18 L147.60,356.18 L147.80,356.18 L148.00,356.18 L148.20,356.18 L148.40,356.18 L148.60,356.18 L148.80,356.18 L149.00,356.18 L149.20,356.18 L149.40,356.18 L149.60,356.18 L149.80,356.18 L150.00,356.18 L150.20,356.18 L150.40,356.18 L150.60,356.18 L150.80,356.18 L151.00,356.19 L151.20,356.19 L151.40,356.19 L151.60,356.19 L151.80,356.19 L152.00,356.19 L152.20,356.19 L152.40,356.19 L152.60,356.19 L152.80,356.19 L153.00,356.19 L153.20,356.19 L153.40,356.19 L153.60,356.19 L153.80,356.19 L154.00,356.19 L154.20,356.19 L154.40,356.19 L154.60,356.19 L154.80,356.19 L155.00,356.19 L155.20,356.19 L155.40,356.19 L155.60,356.19 L155.80,356.19 L156.00,356.19 L156.20,356.19 L156.40,356.19 L156.60,356.19 L156.80,356.19 L157.00,356.19 L157.20,356.20 L157.40,356.20 L157.60,356.20 L157.80,356.20 L158.00,356.20 L158.20,356.20 L158.40,356.20 L158.60,356.20 L158.80,356.20 L159.00,356.20 L159.20,356.20 L159.40,356.20 L159.60,356.20 L159.80,356.20 L160.00,356.20 L160.20,356.22 L160.40,356.25 L160.60,356.27 L160.80,356.29 L161.00,356.32 L161.20,356.34 L161.40,356.36 L161.60,356.39 L161.80,356.41 L162.00,356.43 L162.20,356.46 L162.40,356.48 L162.60,356.50 L162.80,356.53 L163.00,356.55 L163.20,356.57 L163.40,356.60 L163.60,356.62 L163.80,356.64 L164.00,356.67 L164.20,356.69 L164.40,356.71 L164.60,356.74 L164.80,356.76 L165.00,356.78 L165.20,356.81 L165.40,356.83 L165.60,356.85 L165.80,356.88 L166.00,356.90 L166.20,356.90 L166.40,356.90 L166.60,356.90 L166.80,356.90 L167.00,356.90 L167.20,356.90 L167.40,356.90 L167.60,356.90 L167.80,356.90 L168.00,356.90 L168.20,356.90 L168.40,356.90 L168.60,356.90 L168.80,356.90 L169.00,356.90 L169.20,356.90 L169.40,356.90 L169.60,356.90 L169.80,356.90 L170.00,356.89 L170.20,356.88 L170.40,356.84 L170.60,356.75 L170.80,356.52 L171.00,356.02 L171.20,354.98 L171.40,352.99 L171.60,349.45 L171.80,343.61 L172.00,334.71 L172.20,322.22 L172.40,306.18 L172.60,287.46 L172.80,267.93 L173.00,250.18 L173.20,237.09 L173.40,230.99 L173.60,234.14 L173.80,248.22 L174.00,267.34 L174.20,283.29 L174.40,296.37 L174.60,307.11 L174.80,315.94 L175.00,323.21 L175.20,329.17 L175.40,334.07 L175.60,338.10 L175.80,341.39 L176.00,344.10 L176.20,346.33 L176.40,348.15 L176.60,349.65 L176.80,350.89 L177.00,351.90 L177.20,352.73 L177.40,353.41 L177.60,353.98 L177.80,354.44 L178.00,354.82 L178.20,355.14 L178.40,355.40 L178.60,355.61 L178.80,355.79 L179.00,355.93 L179.20,356.06 L179.40,356.16 L179.60,356.24 L179.80,356.31 L180.00,356.37 L180.20,356.42 L180.40,356.46 L180.60,356.49 L180.80,356.52 L181.00,356.54 L181.20,356.56 L181.40,356.58 L181.60,356.60 L181.80,356.61 L182.00,356.62 L182.20,356.63 L182.40,356.64 L182.60,356.64 L182.80,356.65 L183.00,356.65 L183.20,356.66 L183.40,356.66 L183.60,356.67 L183.80,356.67 L184.00,356.67 L184.20,356.67 L184.40,356.68 L184.60,356.68 L184.80,356.68 L185.00,356.68 L185.20,356.68 L185.40,356.68 L185.60,356.68 L185.80,356.69 L186.00,356.69 L186.20,356.69 L186.40,356.69 L186.60,356.69 L186.80,356.69 L187.00,356.69 L187.20,356.69 L187.40,356.69 L187.60,356.69 L187.80,356.69 L188.00,356.69 L188.20,356.69 L188.40,356.69 L188.60,356.69 L188.80,356.69 L189.00,356.69 L189.20,356.69 L189.40,356.69 L189.60,356.69 L189.80,356.69 L190.00,356.69 L190.20,356.69 L190.40,356.69 L190.60,356.69 L190.80,356.69 L191.00,356.69 L191.20,356.69 L191.40,356.69 L191.60,356.69 L191.80,356.69 L192.00,356.69 L192.20,356.70 L192.40,356.70 L192.60,356.70 L192.80,356.70 L193.00,356.70 L193.20,356.70 L193.40,356.70 L193.60,356.70 L193.80,356.69 L194.00,356.69 L194.20,356.69 L194.40,356.69 L194.60,356.69 L194.80,356.69 L195.00,356.69 L195.20,356.69 L195.40,356.69 L195.60,356.69 L195.80,356.69 L196.00,356.69 L196.20,356.69 L196.40,356.69 L196.60,356.69 L196.80,356.69 L197.00,356.69 L197.20,356.69 L197.40,356.69 L197.60,356.69 L197.80,356.69 L198.00,356.69 L198.20,356.69 L198.40,356.69 L198.60,356.69 L198.80,356.69 L199.00,356.69 L199.20,356.69 L199.40,356.69 L199.60,356.69 L199.80,356.69 L200.00,356.69 L200.20,356.69 L200.40,356.69 L200.60,356.69 L200.80,356.69 L201.00,356.69 L201.20,356.69 L201.40,356.69 L201.60,356.69 L201.80,356.69 L202.00,356.69 L202.20,356.69 L202.40,356.69 L202.60,356.69 L202.80,356.69 L203.00,356.69 L203.20,356.69 L203.40,356.69 L203.60,356.69 L203.80,356.69 L204.00,356.69 L204.20,356.69 L204.40,356.69 L204.60,356.69 L204.80,356.69 L205.00,356.69 L205.20,356.69 L205.40,356.69 L205.60,356.69 L205.80,356.69 L206.00,356.69 L206.20,356.69 L206.40,356.69 L206.60,356.69 L206.80,356.69 L207.00,356.69 L207.20,356.69 L207.40,356.69 L207.60,356.69 L207.80,356.69 L208.00,356.69 L208.20,356.69 L208.40,356.69 L208.60,356.69 L208.80,356.69 L209.00,356.69 L209.20,356.69 L209.40,356.69 L209.60,356.69 L209.80,356.69 L210.00,356.69 L210.20,356.69 L210.40,356.69 L210.60,356.69 L210.80,356.69 L211.00,356.69 L211.20,356.69 L211.40,356.69 L211.60,356.69 L211.80,356.69 L212.00,356.69 L212.20,356.69 L212.40,356.69 L212.60,356.69 L212.80,356.69 L213.00,356.69 L213.20,356.69 L213.40,356.69 L213.60,356.69 L213.80,356.69 L214.00,356.69 L214.20,356.69 L214.40,356.69 L214.60,356.69 L214.80,356.69 L215.00,356.69 L215.20,356.69 L215.40,356.69 L215.60,356.69 L215.80,356.69 L216.00,356.69 L216.20,356.69 L216.40,356.69 L216.60,356.69 L216.80,356.69 L217.00,356.69 L217.20,356.69 L217.40,356.69 L217.60,356.69 L217.80,356.69 L218.00,356.69 L218.20,356.69 L218.40,356.69 L218.60,356.69 L220.10,356.69 L221.60,356.69 L223.10,356.69 L224.60,356.69 L226.10,356.69 L227.60,356.69 L229.10,356.69 L230.60,356.69 L232.10,356.69 L233.60,356.69 L235.10,356.68 L236.60,356.68 L238.10,356.68 L239.60,356.68 L241.10,356.68 L242.60,356.68 L244.10,356.68 L245.60,356.68 L247.10,356.68 L248.60,356.68 L250.10,356.68 L251.60,356.68 L253.10,356.68 L254.60,356.68 L256.10,356.68 L257.60,356.68 L259.10,356.68 L260.60,356.68 L262.10,356.68 L263.60,356.68 L265.10,356.68 L266.60,356.68 L268.10,356.68 L269.60,356.68 L271.10,356.68 L272.60,356.68 L274.10,356.67 L275.60,356.67 L277.10,356.67 L278.60,356.67 L280.10,356.67 L281.60,356.67 L283.10,356.67 L284.60,356.67 L286.10,356.67 L287.60,356.67 L289.10,356.67 L290.60,356.67 L292.10,356.67 L293.60,356.67 L295.10,356.67 L296.60,356.67 L298.10,356.67 L299.60,356.67 L301.10,356.67 L302.60,356.67 L304.10,356.67 L305.60,356.67 L307.10,356.67 L308.60,356.67 L310.10,356.67 L311.60,356.67 L313.10,356.66 L314.60,356.66 L316.10,356.66 L317.60,356.66 L319.10,356.66 L320.60,356.66 L322.10,356.66 L323.60,356.66 L325.10,356.66 L326.60,356.66 L328.10,356.66 L329.60,356.66 L331.10,356.66 L332.60,356.66 L334.10,356.66 L335.60,356.66 L337.10,356.66 L338.60,356.66 L340.10,356.66 L341.60,356.66 L343.10,356.66 L344.60,356.66 L346.10,356.66 L347.60,356.66 L349.10,356.66 L350.60,356.66 L352.10,356.65 L353.60,356.65 L355.10,356.65 L356.60,356.65 L358.10,356.65 L359.60,356.65 L361.10,356.65 L362.60,356.65 L364.10,356.65 L365.60,356.65 L367.10,356.65 L368.60,356.65 L370.10,356.65 L371.60,356.65 L373.10,356.65 L374.60,356.65 L376.10,356.65 L377.60,356.65 L379.10,356.65 L380.60,356.65 L382.10,356.65 L383.60,356.65 L385.10,356.65 L386.60,356.65 L388.10,356.65 L389.60,356.65 L391.10,356.64 L392.60,356.64 L394.10,356.64 L395.60,356.64 L397.10,356.64 L398.60,356.64 L400.10,356.64 L401.60,356.64 L403.10,356.64 L404.60,356.64 L406.10,356.64 L407.60,356.64 L409.10,356.64 L410.60,356.64 L412.10,356.64 L413.60,356.64 L415.10,356.64 L416.60,356.64 L418.10,356.64 L419.60,356.64 L421.10,356.64 L422.60,356.64 L424.10,356.64 L425.60,356.64 L427.10,356.64 L428.60,356.64 L430.10,356.63 L431.60,356.63 L433.10,356.63 L434.60,356.63 L436.10,356.63 L437.60,356.63 L439.10,356.63 L440.60,356.63 L442.10,356.63 L443.60,356.63 L445.10,356.63 L446.60,356.63 L448.10,356.63 L449.60,356.63 L451.10,356.63 L452.60,356.63 L454.10,356.63 L455.60,356.63 L457.10,356.63 L458.60,356.63 L460.10,356.63 L461.60,356.63 L463.10,356.63 L464.60,356.63 L466.10,356.63 L467.60,356.63 L469.10,356.62 L470.60,356.62 L472.10,356.62 L473.60,356.62 L475.10,356.62 L476.60,356.62 L478.10,356.62 L479.60,356.62 L481.10,356.62 L482.60,356.62 L484.10,356.62 L485.60,356.62 L487.10,356.62 L488.60,356.62 L490.10,356.62 L491.60,356.62 L493.10,356.62 L494.60,356.62 L496.10,356.62 L497.60,356.62 L499.10,356.62 L500.60,356.62 L502.10,356.62 L503.60,356.62 L505.10,356.62 L506.60,356.62 L508.10,356.61 L509.60,356.61 L511.10,356.61 L512.60,356.61 L514.10,356.61 L515.60,356.61 L517.10,356.61 L518.60,356.61 L520.10,356.61 L521.60,356.61 L523.10,356.61 L524.60,356.61 L526.10,356.61 L527.60,356.61 L529.10,356.61 L530.60,356.61 L532.10,356.61 L533.60,356.61 L535.10,356.61 L536.60,356.61 L538.10,356.61 L539.60,356.61 L541.10,356.61 L542.60,356.61 L544.10,356.61 L545.60,356.61 L547.10,356.60 L548.60,356.60 L550.10,356.60 L551.60,356.60 L553.10,356.60 L554.60,356.60 L556.10,356.60 L557.60,356.60 L559.10,356.60 L560.60,356.60 L562.10,356.60 L563.60,356.60 L565.10,356.60 L565.30,356.60 L565.50,356.60 L565.60,356.60" fill="none" stroke="#1a12bc" stroke-width="1.6" stroke-linejoin="round" stroke-linecap="butt"/>
<g stroke="#3c3c3c" stroke-width="1.3" fill="none" stroke-linecap="round">
<path d="M367.6,136.4 L354.8,127.4 L361.1,107.4 L382.4,107.4 L388.4,127.4 L376.3,136.4"/>
<path d="M388.4,127.4 L403.0,132.8"/>
<path d="M389.8,125.2 L404.2,130.5"/>
<path d="M372.1,146.0 L372.1,159.3 L387.2,167.0"/>
<path d="M374.4,157.4 L389.0,164.7"/>
</g>
<g font-family="Liberation Sans, sans-serif" fill="#2a2a2a">
<text x="367.8" y="144.7" font-size="12.5">N</text>
<text x="404.7" y="138.4" font-size="12.5">O</text>
<text x="388.0" y="177.1" font-size="12.3">CH<tspan font-size="9" dx="-0.6" dy="2.3">2</tspan></text>
</g>
<text x="313.6" y="51.5" font-family="Liberation Sans, sans-serif" font-size="14.5" fill="#222">1-vinyl-2-pyrrolidone</text>
<text y="247.6" font-family="Liberation Sans, sans-serif" font-size="14.5" fill="#d61ad6"><tspan x="43.6" textLength="33.5" lengthAdjust="spacingAndGlyphs">10/90</tspan><tspan x="82.1">ACN/H2O</tspan></text>
<text y="280.6" font-family="Liberation Sans, sans-serif" font-size="14.5" fill="#1e9b5d"><tspan x="43.6" textLength="33.5" lengthAdjust="spacingAndGlyphs">20/80</tspan><tspan x="82.1">ACN/H2O</tspan></text>
<text y="313.2" font-family="Liberation Sans, sans-serif" font-size="14.5" fill="#c81e1e"><tspan x="43.6" textLength="33.5" lengthAdjust="spacingAndGlyphs">30/70</tspan><tspan x="82.1">ACN/H2O</tspan></text>
<text y="347.0" font-family="Liberation Sans, sans-serif" font-size="14.5" fill="#1a12bc"><tspan x="43.6" textLength="33.5" lengthAdjust="spacingAndGlyphs">50/50</tspan><tspan x="82.1">ACN/H2O</tspan></text>
<text transform="translate(80.28,395.0) scale(0.945,1)" font-family="Liberation Sans, sans-serif" font-size="14" fill="#222">0</text>
<text transform="translate(172.40,395.0) scale(0.945,1)" font-family="Liberation Sans, sans-serif" font-size="14" fill="#222">2</text>
<text transform="translate(264.85,395.0) scale(0.945,1)" font-family="Liberation Sans, sans-serif" font-size="14" fill="#222">4</text>
<text transform="translate(357.98,395.0) scale(0.945,1)" font-family="Liberation Sans, sans-serif" font-size="14" fill="#222">6</text>
<text transform="translate(450.87,395.0) scale(0.945,1)" font-family="Liberation Sans, sans-serif" font-size="14" fill="#222">8</text>
<text transform="translate(543.30,395.0) scale(0.945,1)" font-family="Liberation Sans, sans-serif" font-size="14" letter-spacing="-1.1" fill="#222">10</text>
<text transform="translate(559.9,395.0) scale(1.07,1)" font-family="Liberation Sans, sans-serif" font-size="14" fill="#222">min</text>
<text x="56.8" y="454.20" font-family="Liberation Sans, sans-serif" font-size="14.15" word-spacing="0" fill="#111" xml:space="preserve"><tspan font-weight="bold">Column</tspan><tspan dx="-0.5">:</tspan></text>
<text x="295.6" y="454.20" font-family="Liberation Sans, sans-serif" font-size="14.1" word-spacing="0" fill="#111" xml:space="preserve">Newcrom R1</text>
<text x="56.8" y="471.70" font-family="Liberation Sans, sans-serif" font-size="14.15" word-spacing="0" fill="#111" xml:space="preserve"><tspan font-weight="bold">Column size:</tspan></text>
<text y="471.70" font-family="Liberation Sans, sans-serif" font-size="13.6" fill="#111"><tspan x="298.7" word-spacing="0.9">4.6 x 150mm,</tspan><tspan x="393.4">3um,</tspan><tspan x="430.4">100A</tspan></text>
<text x="56.8" y="489.20" font-family="Liberation Sans, sans-serif" font-size="14.15" word-spacing="0" fill="#111" xml:space="preserve"><tspan font-weight="bold">Mobile phase:</tspan></text>
<text x="295.6" y="489.20" font-family="Liberation Sans, sans-serif" font-size="14.1" word-spacing="0" fill="#111" xml:space="preserve">Varied</text>
<text x="56.8" y="506.70" font-family="Liberation Sans, sans-serif" font-size="14.3" word-spacing="0.8" fill="#111" xml:space="preserve"><tspan font-weight="bold">Buffer:</tspan></text>
<text x="295.6" y="506.70" font-family="Liberation Sans, sans-serif" font-size="14.1" word-spacing="0.8" fill="#111" xml:space="preserve">None</text>
<text x="56.8" y="524.20" font-family="Liberation Sans, sans-serif" font-size="14.3" word-spacing="0.8" fill="#111" xml:space="preserve"><tspan font-weight="bold">Column Temp:</tspan></text>
<text x="295.6" y="524.20" font-family="Liberation Sans, sans-serif" font-size="14.1" word-spacing="0.8" fill="#111" xml:space="preserve">30C</text>
<text x="56.8" y="541.70" font-family="Liberation Sans, sans-serif" font-size="14.3" word-spacing="0.8" fill="#111" xml:space="preserve"><tspan font-weight="bold">Flow rate:</tspan></text>
<text x="295.6" y="541.70" font-family="Liberation Sans, sans-serif" font-size="14.1" word-spacing="0.8" fill="#111" xml:space="preserve">1.0 mL/min</text>
<text x="56.8" y="559.20" font-family="Liberation Sans, sans-serif" font-size="14.3" word-spacing="0.8" fill="#111" xml:space="preserve"><tspan font-weight="bold">Detection:</tspan></text>
<text x="295.6" y="559.20" font-family="Liberation Sans, sans-serif" font-size="14.1" word-spacing="0.8" fill="#111" xml:space="preserve">UV 235nm</text>
</svg>
</body></html>
